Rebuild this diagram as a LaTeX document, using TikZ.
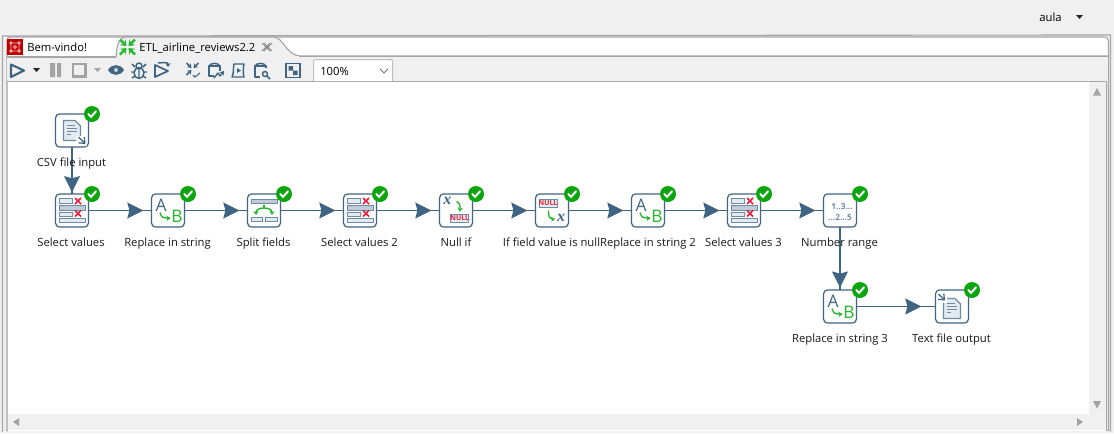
\documentclass[tikz,border=0pt]{standalone}
\usepackage{fontspec}
\setmainfont{Open Sans}
\newfontfamily\glyphfont{Liberation Serif}
\usetikzlibrary{arrows.meta,decorations.markings}
\definecolor{frameg}{HTML}{A6A6A6}
\definecolor{panel}{HTML}{F0F0F0}
\definecolor{flow}{HTML}{3F6583}
\definecolor{barline}{HTML}{6F8BA3}
\definecolor{barfill}{HTML}{E3EAF0}
\definecolor{barmid}{HTML}{BFCCD8}
\definecolor{okgreen}{HTML}{0AA50F}
\definecolor{swapgreen}{HTML}{20B82B}
\definecolor{crossred}{HTML}{EE1C3C}
\definecolor{tbgray}{HTML}{A3A3A3}
\tikzset{
  x=.75pt,y=-.75pt,
  stepicon/.style={draw=flow,line width=.9pt,rounded corners=3pt,fill=white,minimum size=24.75pt,inner sep=0pt,outer sep=0pt},
  steplabel/.style={anchor=base,font=\fontsize{8.45}{10}\selectfont,inner sep=0pt,text=black!90},
  conn/.style={draw=flow,line width=.9pt,postaction={decorate,decoration={markings,mark=at position #1 with {\arrow{Stealth[length=12pt,width=12pt,inset=1.6pt,flow]}}}}},
  bar/.style={draw=barline,fill=barfill,line width=.7pt},
  barwide/.style={draw=barline,fill=barmid,line width=.7pt},
  swaparrow/.style={draw=swapgreen,line width=1pt,-{Stealth[length=3pt,width=4pt,swapgreen]}},
  tool/.style={draw=flow,line width=1.1pt,line join=round},
  pics/badge/.style={code={
    \fill[okgreen] (20,-16.5) circle[radius=8];
    \draw[white,line width=1.5pt,line cap=round,line join=round] (16.3,-16.5) -- (19,-13.6) -- (24,-19.2);
  }},
  pics/xmark/.style={code={
    \draw[crossred,line width=1.1pt] (-3,-3) -- (3,3) (-3,3) -- (3,-3);
  }},
  pics/selecticon/.style={code={
    \draw[bar] (-13,-12) rectangle (0.5,-7.5);
    \draw[barwide] (-13,-5) rectangle (13,-.5);
    \draw[bar] (-13,1.5) rectangle (0.5,5.5);
    \draw[bar] (-13,7.5) rectangle (13,11.5);
    \pic at (6,-9.5) {xmark};
    \pic at (6,3) {xmark};
    \pic {badge};
  }},
  pics/replaceicon/.style={code={
    \node[inner sep=0pt,text=flow,font=\fontsize{13}{13}\selectfont] at (-7,-5.5) {A};
    \node[inner sep=0pt,text=swapgreen,font=\fontsize{13}{13}\selectfont] at (9,6) {B};
    \draw[swaparrow] (-8,2) .. controls (-7,7.5) and (-3,8) .. (2.5,7.5);
    \pic {badge};
  }},
  pics/spliticon/.style={code={
    \draw[barwide] (-13,-11.5) rectangle (13.5,-7.5);
    \draw[bar] (-13,6.5) rectangle (-1.7,11);
    \draw[bar] (1.7,6.5) rectangle (13.5,11);
    \draw[swapgreen,line width=1pt] (0,-5.5) -- (0,-2.5);
    \draw[swaparrow] (0,-2.5) .. controls (-6,-2.5) and (-8,0) .. (-8,4.5);
    \draw[swaparrow] (0,-2.5) .. controls (6,-2.5) and (8,0) .. (8,4.5);
    \pic {badge};
  }},
  pics/nullbox/.style={code={
    \draw[draw=barline,fill=barfill,line width=.7pt] (-9,-4) rectangle (9,4);
    \node[inner sep=0pt,text=crossred,font=\fontsize{5.2}{5}\selectfont\bfseries] at (0,0) {NULL};
  }},
  pics/nullificon/.style={code={
    \node[inner sep=0pt,text=flow,font=\glyphfont\fontsize{12}{12}\selectfont\bfseries\itshape] at (-8.7,-9.5) {x};
    \draw[swaparrow] (.5,-9) .. controls (3.5,-8) and (4.5,-4) .. (3.5,1);
    \pic at (3.8,7.7) {nullbox};
    \pic {badge};
  }},
  pics/iffieldicon/.style={code={
    \pic at (-4,-7) {nullbox};
    \node[inner sep=0pt,text=flow,font=\glyphfont\fontsize{12}{12}\selectfont\bfseries\itshape] at (9,7.5) {x};
    \draw[swaparrow] (-3.5,0) .. controls (-3.5,7) and (-2,9) .. (3,8.5);
    \pic {badge};
  }},
  pics/numbericon/.style={code={
    \node[inner sep=0pt,text=barline,font=\fontsize{6.2}{6}\selectfont\bfseries] at (2,-4) {1..3...};
    \node[inner sep=0pt,text=barline,font=\fontsize{6.2}{6}\selectfont\bfseries] at (0,7) {...2...5};
    \pic {badge};
  }},
  pics/docbody/.style={code={
    \draw[draw=barline,fill=barfill,line width=.95pt,line join=round] (-8.5,-10) -- (3,-10) -- (8.5,-4.5) -- (8.5,10) -- (-8.5,10) -- cycle;
    \draw[barline,line width=.6pt] (-5.5,-5) -- (3,-5) (-5.5,-2) -- (4.5,-2) (-5.5,1) -- (4.5,1) (-5.5,4) -- (-1,4);
  }},
  pics/csvicon/.style={code={
    \pic {docbody};
    \fill[white] (4,5) rectangle (15,15.5);
    \draw[draw=flow,line width=.95pt,-{Straight Barb[length=3.5pt,width=6pt]}] (6.5,6.5) -- (13.5,13.5);
    \pic {badge};
  }},
  pics/txticon/.style={code={
    \pic at (0,2) {docbody};
    \fill[white] (-15,-14) rectangle (-5,-4);
    \draw[draw=flow,line width=.95pt,-{Straight Barb[length=3.5pt,width=6pt]}] (-13.5,-12.5) -- (-7,-6);
    \pic {badge};
  }},
}
\begin{document}
\begin{tikzpicture}
\useasboundingbox (0,0) rectangle (1114,433);
% window chrome
\fill[panel] (0,0) rectangle (1114,433);
\draw[frameg,line width=.85pt] (2.5,431.5) -- (2.5,36) -- (1110.5,35) -- (1110.5,431.5);
\fill[white] (7,57) -- (7,41) .. controls (7,38) and (8,37) .. (11,37) -- (1103,37) .. controls (1107,37) and (1108,38) .. (1108.5,42) -- (1108.5,56.5) -- cycle;
\draw[frameg,line width=.85pt] (7,431) -- (7,41) .. controls (7,38) and (8,37) .. (11,37) -- (1103,37) .. controls (1107,37) and (1108,38) .. (1108.5,42) -- (1108.5,431);
\draw[frameg,line width=.85pt] (7,430.5) -- (1108.5,430.5);
\filldraw[draw=frameg,fill=panel,line width=.85pt] (116,57) .. controls (117,48) and (117,38) .. (126,37) -- (274,37) .. controls (284,38) and (286,55) .. (300,56) -- (1108.5,56) -- (1108.5,57) -- cycle;
\fill[panel] (7,57) rectangle (1108,81);
\draw[panel,line width=1pt] (117,57) -- (299,57);
\draw[frameg,line width=.85pt] (7,57) -- (116,57);
\fill[white] (8,82) rectangle (1106,431);
\draw[frameg,line width=.85pt] (7,81.5) -- (1106.5,81.5) -- (1106.5,431);
\fill[panel] (1089,82) rectangle (1106,414);
\fill[panel] (8,414) rectangle (1106,430);
\fill[tbgray] (1097,88) -- (1101,95.5) -- (1093,95.5) -- cycle;
\fill[tbgray] (1097,408.5) -- (1101,401) -- (1093,401) -- cycle;
\fill[tbgray] (13,422) -- (19,418) -- (19,426) -- cycle;
\fill[tbgray] (1083,422) -- (1077,418) -- (1077,426) -- cycle;
% top bar
\node[inner sep=0pt,anchor=base,font=\fontsize{8.45}{10}\selectfont] (user) at (1050.5,21) {aula};
\fill[black!85] (1076,15) -- (1083,15) -- (1079.5,19) -- cycle;
% tabs
\fill[red!75!black] (7,39) rectangle (23,55);
\draw[white!70!red,line width=.7pt] (11,43) circle[radius=1.2] (19,43) circle[radius=1.2] (11,51) circle[radius=1.2] (19,51) circle[radius=1.2] (15,47) circle[radius=1.5] (11,43) -- (19,43) (11,51) -- (19,51) (11,43) -- (11,51) (19,43) -- (19,51);
\node[inner sep=0pt,anchor=base west,font=\fontsize{8.45}{10}\selectfont] (tabone) at (27,51) {Bem-vindo!};
\foreach \sx/\sy in {-1/-1,1/-1,-1/1,1/1}{
  \draw[draw=swapgreen,line width=1.6pt,-{Stealth[length=4pt,width=6pt,swapgreen]}] (127.5+\sx*7.5,47+\sy*7.5) -- (127.5+\sx*1,47+\sy*1);
}
\node[inner sep=0pt,anchor=base west,font=\fontsize{8.45}{10}\selectfont] (tabtwo) at (139,51) {ETL\_airline\_reviews2.2};
\draw[black!45,line width=.7pt] (262,43) -- (270,51) (270,43) -- (262,51) (264,43) -- (272,51) (272,43) -- (264,51);
% toolbar
\draw[tool,line width=1.6pt] (11,64.5) -- (24,70.5) -- (11,77) -- cycle;
\fill[black!85] (33,68) -- (40,68) -- (36.5,72) -- cycle;
\fill[tbgray] (50,63) rectangle (55,77) (57,63) rectangle (61,77);
\draw[tbgray,line width=1.6pt] (73,64) rectangle (85.5,76.5);
\fill[tbgray] (94,68) -- (101,68) -- (97.5,72) -- cycle;
\fill[flow] (108,70) .. controls (112,63.5) and (120,63.5) .. (124,70) .. controls (120,76.5) and (112,76.5) .. (108,70) -- cycle;
\fill[white!70!flow] (116,70) circle[radius=2];
\draw[tool] (139,66) ellipse[x radius=3,y radius=3];
\draw[tool] (139,73) ellipse[x radius=5,y radius=5.5];
\draw[tool] (139,67.5) -- (139,78.5) (132,64) -- (135,67) (146,64) -- (143,67) (131,72) -- (134,72) (147,72) -- (144,72) (132,78) -- (135,76) (146,78) -- (143,76);
\draw[tool,line width=1.3pt] (155,65) -- (168,71) -- (155,77) -- cycle;
\draw[tool,-{Stealth[length=3pt,width=4pt,flow]}] (158,63) -- (165,62.5) .. controls (168,63) .. (168,67);
% toolbar group 2
\foreach \sx/\sy in {-1/-1,1/-1,-1/1}{
  \draw[draw=flow,line width=1.1pt,-{Stealth[length=3pt,width=4pt,flow]}] (192.5+\sx*6,69+\sy*6) -- (192.5+\sx*1,69+\sy*1);
}
\draw[flow,line width=.8pt] (193,75) -- (195,77) -- (200,73);
\draw[tool] (220,71) -- (220,66) -- (209,66) -- (209,76) -- (214,76);
\draw[tool] (209,66) .. controls (211,62.5) and (218,62.5) .. (220,66);
\draw[tool,-{Stealth[length=3pt,width=4pt,flow]}] (214,78) -- (218,73) -- (220,76) -- (224,71);
\draw[tool] (235,77) -- (244,77) .. controls (243,74) and (243,68) .. (244,64) -- (234,64) .. controls (233,68) and (234,74) .. (232,77) -- (235,77);
\fill[flow] (237,68) -- (241,70.5) -- (237,73) -- cycle;
\draw[tool] (266,68) -- (266,66) -- (255,66) -- (255,77) -- (260,77);
\draw[tool] (255,66) .. controls (257,62.5) and (264,62.5) .. (266,66);
\draw[tool] (265,74) circle[radius=2.5] (267,76) -- (270,79);
\draw[flow,line width=1.3pt] (286,63.5) rectangle (300,77.5);
\fill[flow] (288.5,66) rectangle (293,70.5) (293,70.5) rectangle (297.5,75);
% zoom combo
\filldraw[draw=black!25,fill=white,line width=.75pt,rounded corners=1pt] (313.5,81) -- (313.5,59.5) -- (392.5,59.5) -- (392.5,81);
\node[inner sep=0pt,anchor=base west,font=\fontsize{8.45}{10}\selectfont] (zoomval) at (320,75) {100\%};
\draw[black!55,line width=.7pt] (380,69) -- (384,73) -- (388,69);
% step icons
\node[stepicon] (csv) at (72,130.5) {};
\node[stepicon] (sv1) at (72,210.5) {};
\node[stepicon] (rs1) at (168,210.5) {};
\node[stepicon] (spl) at (264,210.5) {};
\node[stepicon] (sv2) at (360,210.5) {};
\node[stepicon] (nif) at (456,210.5) {};
\node[stepicon] (ifn) at (552,210.5) {};
\node[stepicon] (rs2) at (648,210.5) {};
\node[stepicon] (sv3) at (744,210.5) {};
\node[stepicon] (num) at (840,210.5) {};
\node[stepicon] (rs3) at (840,306.5) {};
\node[stepicon] (txt) at (952,306.5) {};
% connectors
\draw[conn=.96] (csv) -- (sv1);
\draw[conn=.87] (sv1) -- (rs1);
\draw[conn=.87] (rs1) -- (spl);
\draw[conn=.87] (spl) -- (sv2);
\draw[conn=.87] (sv2) -- (nif);
\draw[conn=.87] (nif) -- (ifn);
\draw[conn=.87] (ifn) -- (rs2);
\draw[conn=.87] (rs2) -- (sv3);
\draw[conn=.87] (sv3) -- (num);
\draw[conn=.96] (num) -- (rs3);
\draw[conn=.82] (rs3) -- (txt);
% icon glyphs
\pic at (csv) {csvicon};
\pic at (sv1) {selecticon};
\pic at (rs1) {replaceicon};
\pic at (spl) {spliticon};
\pic at (sv2) {selecticon};
\pic at (nif) {nullificon};
\pic at (ifn) {iffieldicon};
\pic at (rs2) {replaceicon};
\pic at (sv3) {selecticon};
\pic at (num) {numbericon};
\pic at (rs3) {replaceicon};
\pic at (txt) {txticon};
% labels
\node[steplabel] (lcsv) at (71.5,166) {CSV file input};
\node[steplabel] (lsv1) at (71,246) {Select values};
\node[steplabel] (lrs1) at (167.5,246) {Replace in string};
\node[steplabel] (lspl) at (263.5,246) {Split fields};
\node[steplabel] (lsv2) at (359.5,246) {Select values 2};
\node[steplabel] (lnif) at (456,246) {Null if};
\node[steplabel] (lifn) at (551.5,246) {If field value is null};
\node[steplabel] (lrs2) at (648,246) {Replace in string 2};
\node[steplabel] (lsv3) at (743.5,246) {Select values 3};
\node[steplabel] (lnum) at (839.5,246) {Number range};
\node[steplabel] (lrs3) at (840,342) {Replace in string 3};
\node[steplabel] (ltxt) at (951.5,342) {Text file output};
\end{tikzpicture}
\end{document}
